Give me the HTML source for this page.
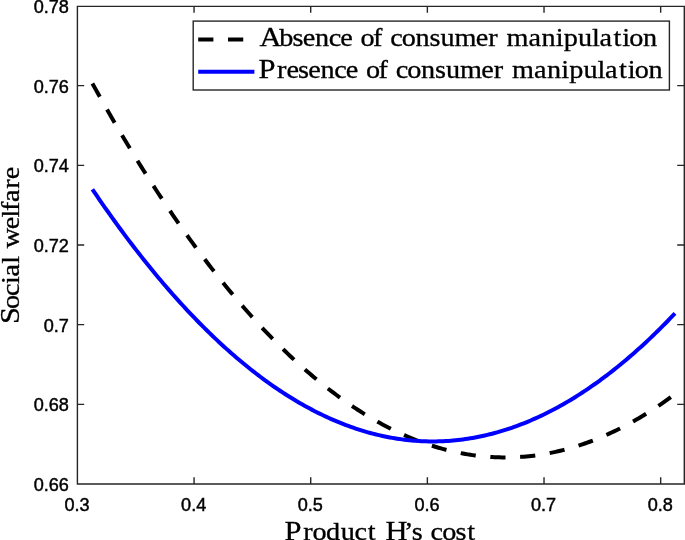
<!DOCTYPE html><html><head><meta charset="utf-8"><title>Social welfare vs Product H cost</title>
<style>html,body{margin:0;padding:0;background:#fff;}svg{display:block;}.tk{font-family:"Liberation Sans",Arial,sans-serif;font-size:18.1px;fill:#000;stroke:#000;stroke-width:0.45px;}.cm{font-family:"Liberation Serif","Times New Roman",serif;font-size:25px;fill:#000;stroke:#000;stroke-width:0.3px;}.uc{font-size:27px;}</style></head><body>
<svg width="685" height="540" viewBox="0 0 685 540">
<rect width="685" height="540" fill="#fff"/>
<path d="M92.40 83.47 L94.84 87.87 L97.28 92.25 L99.71 96.60 L102.15 100.93 L104.59 105.23 L107.03 109.50 L109.46 113.75 L111.90 117.97 L114.34 122.17 L116.78 126.34 L119.21 130.48 L121.65 134.60 L124.09 138.69 L126.53 142.76 L128.96 146.80 L131.40 150.81 L133.84 154.80 L136.28 158.76 L138.72 162.69 L141.15 166.60 L143.59 170.48 L146.03 174.34 L148.47 178.17 L150.90 181.98 L153.34 185.75 L155.78 189.51 L158.22 193.23 L160.65 196.93 L163.09 200.61 L165.53 204.25 L167.97 207.88 L170.41 211.47 L172.84 215.04 L175.28 218.58 L177.72 222.10 L180.16 225.59 L182.59 229.06 L185.03 232.50 L187.47 235.91 L189.91 239.30 L192.34 242.66 L194.78 245.99 L197.22 249.30 L199.66 252.58 L202.09 255.84 L204.53 259.07 L206.97 262.28 L209.41 265.45 L211.85 268.61 L214.28 271.73 L216.72 274.83 L219.16 277.91 L221.60 280.95 L224.03 283.97 L226.47 286.97 L228.91 289.94 L231.35 292.88 L233.78 295.80 L236.22 298.69 L238.66 301.56 L241.10 304.40 L243.53 307.21 L245.97 310.00 L248.41 312.76 L250.85 315.49 L253.29 318.20 L255.72 320.88 L258.16 323.54 L260.60 326.17 L263.04 328.77 L265.47 331.35 L267.91 333.90 L270.35 336.43 L272.79 338.93 L275.22 341.40 L277.66 343.85 L280.10 346.27 L282.54 348.67 L284.97 351.04 L287.41 353.38 L289.85 355.70 L292.29 357.99 L294.73 360.25 L297.16 362.49 L299.60 364.71 L302.04 366.89 L304.48 369.05 L306.91 371.19 L309.35 373.30 L311.79 375.38 L314.23 377.44 L316.66 379.47 L319.10 381.47 L321.54 383.45 L323.98 385.40 L326.42 387.33 L328.85 389.23 L331.29 391.10 L333.73 392.95 L336.17 394.77 L338.60 396.56 L341.04 398.33 L343.48 400.08 L345.92 401.79 L348.35 403.48 L350.79 405.15 L353.23 406.79 L355.67 408.40 L358.10 409.99 L360.54 411.55 L362.98 413.08 L365.42 414.59 L367.86 416.07 L370.29 417.53 L372.73 418.96 L375.17 420.36 L377.61 421.74 L380.04 423.09 L382.48 424.42 L384.92 425.72 L387.36 426.99 L389.79 428.24 L392.23 429.46 L394.67 430.66 L397.11 431.83 L399.54 432.97 L401.98 434.09 L404.42 435.18 L406.86 436.24 L409.30 437.28 L411.73 438.29 L414.17 439.28 L416.61 440.24 L419.05 441.18 L421.48 442.08 L423.92 442.97 L426.36 443.82 L428.80 444.65 L431.23 445.46 L433.67 446.23 L436.11 446.99 L438.55 447.71 L440.98 448.41 L443.42 449.08 L445.86 449.73 L448.30 450.35 L450.74 450.95 L453.17 451.52 L455.61 452.06 L458.05 452.58 L460.49 453.07 L462.92 453.53 L465.36 453.97 L467.80 454.38 L470.24 454.77 L472.67 455.13 L475.11 455.47 L477.55 455.77 L479.99 456.06 L482.43 456.31 L484.86 456.54 L487.30 456.75 L489.74 456.92 L492.18 457.08 L494.61 457.20 L497.05 457.30 L499.49 457.37 L501.93 457.42 L504.36 457.44 L506.80 457.44 L509.24 457.41 L511.68 457.35 L514.11 457.27 L516.55 457.16 L518.99 457.02 L521.43 456.86 L523.87 456.67 L526.30 456.46 L528.74 456.22 L531.18 455.95 L533.62 455.66 L536.05 455.35 L538.49 455.00 L540.93 454.63 L543.37 454.23 L545.80 453.81 L548.24 453.36 L550.68 452.89 L553.12 452.39 L555.55 451.86 L557.99 451.31 L560.43 450.73 L562.87 450.13 L565.31 449.49 L567.74 448.84 L570.18 448.15 L572.62 447.45 L575.06 446.71 L577.49 445.95 L579.93 445.16 L582.37 444.35 L584.81 443.51 L587.24 442.64 L589.68 441.75 L592.12 440.83 L594.56 439.89 L596.99 438.92 L599.43 437.92 L601.87 436.90 L604.31 435.85 L606.75 434.78 L609.18 433.68 L611.62 432.55 L614.06 431.40 L616.50 430.22 L618.93 429.01 L621.37 427.78 L623.81 426.52 L626.25 425.24 L628.68 423.93 L631.12 422.60 L633.56 421.23 L636.00 419.85 L638.44 418.43 L640.87 416.99 L643.31 415.53 L645.75 414.03 L648.19 412.52 L650.62 410.97 L653.06 409.40 L655.50 407.81 L657.94 406.18 L660.37 404.53 L662.81 402.86 L665.25 401.16 L667.69 399.43 L670.12 397.68 L672.56 395.90 L675.00 394.10" fill="none" stroke="#000" stroke-width="4" stroke-dasharray="15.2 14.63"/>
<path d="M92.40 189.30 L94.84 192.90 L97.28 196.48 L99.71 200.03 L102.15 203.55 L104.59 207.04 L107.03 210.52 L109.46 213.96 L111.90 217.38 L114.34 220.77 L116.78 224.14 L119.21 227.48 L121.65 230.80 L124.09 234.09 L126.53 237.35 L128.96 240.59 L131.40 243.80 L133.84 246.99 L136.28 250.15 L138.72 253.28 L141.15 256.39 L143.59 259.47 L146.03 262.53 L148.47 265.56 L150.90 268.57 L153.34 271.55 L155.78 274.50 L158.22 277.43 L160.65 280.33 L163.09 283.20 L165.53 286.05 L167.97 288.88 L170.41 291.67 L172.84 294.45 L175.28 297.19 L177.72 299.91 L180.16 302.61 L182.59 305.27 L185.03 307.92 L187.47 310.53 L189.91 313.12 L192.34 315.69 L194.78 318.23 L197.22 320.74 L199.66 323.23 L202.09 325.69 L204.53 328.12 L206.97 330.53 L209.41 332.92 L211.85 335.27 L214.28 337.61 L216.72 339.91 L219.16 342.19 L221.60 344.45 L224.03 346.67 L226.47 348.88 L228.91 351.05 L231.35 353.20 L233.78 355.33 L236.22 357.43 L238.66 359.50 L241.10 361.55 L243.53 363.57 L245.97 365.56 L248.41 367.53 L250.85 369.47 L253.29 371.39 L255.72 373.28 L258.16 375.15 L260.60 376.99 L263.04 378.80 L265.47 380.59 L267.91 382.35 L270.35 384.09 L272.79 385.80 L275.22 387.48 L277.66 389.14 L280.10 390.77 L282.54 392.38 L284.97 393.96 L287.41 395.52 L289.85 397.05 L292.29 398.55 L294.73 400.03 L297.16 401.48 L299.60 402.90 L302.04 404.30 L304.48 405.68 L306.91 407.02 L309.35 408.35 L311.79 409.64 L314.23 410.91 L316.66 412.16 L319.10 413.37 L321.54 414.57 L323.98 415.73 L326.42 416.87 L328.85 417.99 L331.29 419.08 L333.73 420.14 L336.17 421.18 L338.60 422.19 L341.04 423.17 L343.48 424.13 L345.92 425.07 L348.35 425.97 L350.79 426.86 L353.23 427.71 L355.67 428.54 L358.10 429.35 L360.54 430.12 L362.98 430.88 L365.42 431.60 L367.86 432.30 L370.29 432.98 L372.73 433.63 L375.17 434.25 L377.61 434.84 L380.04 435.42 L382.48 435.96 L384.92 436.48 L387.36 436.97 L389.79 437.44 L392.23 437.88 L394.67 438.30 L397.11 438.69 L399.54 439.05 L401.98 439.39 L404.42 439.70 L406.86 439.99 L409.30 440.25 L411.73 440.48 L414.17 440.69 L416.61 440.87 L419.05 441.03 L421.48 441.16 L423.92 441.27 L426.36 441.34 L428.80 441.40 L431.23 441.42 L433.67 441.43 L436.11 441.40 L438.55 441.35 L440.98 441.27 L443.42 441.17 L445.86 441.04 L448.30 440.89 L450.74 440.71 L453.17 440.50 L455.61 440.27 L458.05 440.02 L460.49 439.73 L462.92 439.42 L465.36 439.09 L467.80 438.73 L470.24 438.34 L472.67 437.93 L475.11 437.49 L477.55 437.02 L479.99 436.53 L482.43 436.01 L484.86 435.47 L487.30 434.90 L489.74 434.31 L492.18 433.69 L494.61 433.04 L497.05 432.37 L499.49 431.67 L501.93 430.95 L504.36 430.20 L506.80 429.43 L509.24 428.62 L511.68 427.80 L514.11 426.94 L516.55 426.06 L518.99 425.16 L521.43 424.23 L523.87 423.27 L526.30 422.29 L528.74 421.28 L531.18 420.25 L533.62 419.19 L536.05 418.10 L538.49 416.99 L540.93 415.85 L543.37 414.69 L545.80 413.50 L548.24 412.28 L550.68 411.04 L553.12 409.77 L555.55 408.48 L557.99 407.16 L560.43 405.81 L562.87 404.44 L565.31 403.05 L567.74 401.62 L570.18 400.17 L572.62 398.70 L575.06 397.20 L577.49 395.67 L579.93 394.12 L582.37 392.54 L584.81 390.94 L587.24 389.31 L589.68 387.65 L592.12 385.97 L594.56 384.26 L596.99 382.53 L599.43 380.77 L601.87 378.98 L604.31 377.17 L606.75 375.34 L609.18 373.47 L611.62 371.58 L614.06 369.67 L616.50 367.73 L618.93 365.76 L621.37 363.77 L623.81 361.75 L626.25 359.71 L628.68 357.64 L631.12 355.54 L633.56 353.42 L636.00 351.27 L638.44 349.10 L640.87 346.90 L643.31 344.67 L645.75 342.42 L648.19 340.14 L650.62 337.84 L653.06 335.51 L655.50 333.16 L657.94 330.78 L660.37 328.37 L662.81 325.94 L665.25 323.48 L667.69 320.99 L670.12 318.48 L672.56 315.95 L675.00 313.38" fill="none" stroke="#0000ff" stroke-width="4"/>
<path d="M77.40 6.35H684.30V484.00H77.40Z" fill="none" stroke="#262626" stroke-width="1.4" stroke-linejoin="miter"/>
<path d="M194.05 484.00v-6.80M194.05 6.00v6.80M310.71 484.00v-6.80M310.71 6.00v6.80M427.36 484.00v-6.80M427.36 6.00v6.80M544.02 484.00v-6.80M544.02 6.00v6.80M660.67 484.00v-6.80M660.67 6.00v6.80M77.40 404.33h6.80M684.00 404.33h-6.80M77.40 324.67h6.80M684.00 324.67h-6.80M77.40 245.00h6.80M684.00 245.00h-6.80M77.40 165.33h6.80M684.00 165.33h-6.80M77.40 85.67h6.80M684.00 85.67h-6.80" stroke="#262626" stroke-width="1.4" fill="none"/>
<text class="tk" text-anchor="middle" x="77.00" y="510.6">0.3</text>
<text class="tk" text-anchor="middle" x="193.65" y="510.6">0.4</text>
<text class="tk" text-anchor="middle" x="310.31" y="510.6">0.5</text>
<text class="tk" text-anchor="middle" x="426.96" y="510.6">0.6</text>
<text class="tk" text-anchor="middle" x="543.62" y="510.6">0.7</text>
<text class="tk" text-anchor="middle" x="660.27" y="510.6">0.8</text>
<text class="tk" text-anchor="end" x="68.9" y="491.00">0.66</text>
<text class="tk" text-anchor="end" x="68.9" y="411.33">0.68</text>
<text class="tk" text-anchor="end" x="68.9" y="331.67">0.7</text>
<text class="tk" text-anchor="end" x="68.9" y="252.00">0.72</text>
<text class="tk" text-anchor="end" x="68.9" y="172.33">0.74</text>
<text class="tk" text-anchor="end" x="68.9" y="92.67">0.76</text>
<text class="tk" text-anchor="end" x="68.9" y="13.00">0.78</text>
<text transform="translate(380.70 539.50) scale(1.130 1)" x="-85.03 -68.63 -60.29 -48.43 -35.27 -23.18 -11.46 -3.45 4.21 20.66 27.54 37.02 44.18 54.46 66.09 76.52" y="0" class="cm" aria-label="Product H’s cost"><tspan class="uc">P</tspan>roduct <tspan class="uc">H</tspan>’s cost</text>
<text transform="translate(19.10 245.00) rotate(-90) scale(1.130 1)" x="-69.92 -56.55 -45.05 -34.59 -27.94 -16.63 -9.96 -2.93 13.90 24.35 30.00 38.02 49.81 58.15" y="0" class="cm" aria-label="Social welfare"><tspan class="uc">S</tspan>ocial welfare</text>
<rect x="193.2" y="21.1" width="476.2" height="68.9" fill="#fff" stroke="#262626" stroke-width="1.4"/>
<path d="M198.2 39.6H254.4" stroke="#000" stroke-width="4" stroke-dasharray="15.2 14.63" fill="none"/>
<path d="M198.2 71.7H254.4" stroke="#0000ff" stroke-width="4" fill="none"/>
<text transform="translate(259.00 45.70) scale(1.130 1)" x="0.50 17.92 29.72 38.71 49.49 61.73 72.01 82.73 89.93 100.92 108.99 116.15 126.43 138.50 150.87 160.55 172.97 191.88 202.82 211.64 219.14 238.48 250.11 262.57 269.71 282.28 294.62 301.24 313.78 321.49 327.70 339.77" y="0" class="cm" aria-label="Absence of consumer manipulation"><tspan class="uc">A</tspan>bsence of consumer manipulation</text>
<text transform="translate(259.00 77.80) scale(1.130 1)" x="-0.50 15.90 24.24 34.59 43.58 54.36 66.59 76.87 87.60 94.80 105.79 113.85 121.02 131.30 143.37 155.74 165.41 177.83 196.75 207.69 216.50 224.00 243.34 254.98 267.44 274.58 287.15 299.48 306.10 318.64 326.35 332.57 344.64" y="0" class="cm" aria-label="Presence of consumer manipulation"><tspan class="uc">P</tspan>resence of consumer manipulation</text>
</svg></body></html>
